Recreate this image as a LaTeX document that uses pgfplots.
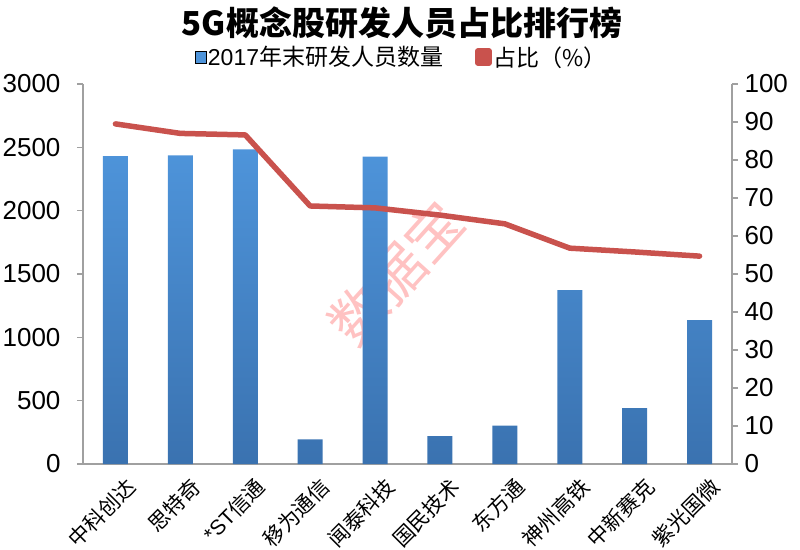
\documentclass[border=0pt]{standalone}
\usepackage{pgfplots}
\pgfplotsset{compat=1.18}
\usepackage{fontspec}
\setmainfont{Liberation Sans}
\newfontfamily\cjk{Noto Sans CJK SC}
\definecolor{barTop}{RGB}{78,148,218}
\definecolor{barBot}{RGB}{58,114,176}
\definecolor{lineRed}{RGB}{201,82,77}
\definecolor{axGray}{RGB}{160,160,160}
\begin{document}
\begin{tikzpicture}[x=1pt,y=1pt]
% watermark
\node[rotate=48, text=red!40!white, opacity=0.6, font=\cjk\fontsize{56}{56}\selectfont] at (396,276) {数据宝};
\node[font=\cjk\bfseries\fontsize{33}{33}\selectfont] at (402,526) {5G概念股研发人员占比排行榜};
\begin{axis}[
  at={(83pt,85pt)}, anchor=south west,
  width=649pt, height=380pt, scale only axis,
  xmin=-0.5, xmax=9.5, ymin=0, ymax=3000,
  axis y line*=left, axis x line*=bottom,
  xtick={0,...,9},
  xticklabels={中科创达,思特奇,{\fontspec{Liberation Sans}*ST}信通,移为通信,闻泰科技,国民技术,东方通,神州高铁,中新赛克,紫光国微},
  xticklabel style={xshift=16pt, yshift=-13pt, rotate=45, anchor=east, inner sep=0pt, font=\cjk\fontsize{21}{21}\selectfont},
  major x tick style={draw=none},
  ytick={0,500,...,3000},
  scaled y ticks=false,
  yticklabel style={xshift=-13pt, font=\fontsize{26}{26}\selectfont, /pgf/number format/1000 sep={}},
  /pgf/number format/assume math mode=true,
  tick align=outside, major tick length=6pt,
  axis line style={draw=axGray, line width=1.3pt},
  ytick style={draw=axGray, line width=1.3pt},
  ybar, bar width=25pt,
]
\addplot[draw=none, top color=barTop, bottom color=barBot] coordinates {
  (0,2431) (1,2437) (2,2484) (3,195) (4,2426)
  (5,221) (6,302) (7,1373) (8,442) (9,1136)
};
\end{axis}
\begin{axis}[
  at={(83pt,85pt)}, anchor=south west,
  width=649pt, height=380pt, scale only axis,
  xmin=-0.5, xmax=9.5, ymin=0, ymax=100,
  axis y line*=right, axis x line=none,
  ytick={0,10,...,100},
  yticklabel style={xshift=3pt, font=\fontsize{26}{26}\selectfont},
  /pgf/number format/assume math mode=true,
  tick align=outside, major tick length=6pt,
  axis line style={draw=axGray, line width=1.3pt},
  ytick style={draw=axGray, line width=1.3pt},
  legend style={at={(0.491,1.071)}, anchor=center, draw=none, fill=none,
    font=\cjk\fontsize{23}{23}\selectfont, legend columns=2,
    /tikz/every even column/.append style={column sep=30pt}},
  legend image code/.code={\fill[#1] (0pt,-6pt) rectangle (11pt,6pt);},
]
\addlegendimage{fill=barTop}
\addlegendentry{{\fontspec{Liberation Sans}2017}年末研发人员数量}
\addplot[color=lineRed, line width=5.5pt, line join=round, line cap=round] coordinates {
  (0,89.5) (1,87.0) (2,86.6) (3,67.9) (4,67.4)
  (5,65.5) (6,63.2) (7,56.8) (8,55.8) (9,54.7)
};
\addlegendentry{占比（\%）}
\end{axis}
\pgfresetboundingbox
\useasboundingbox (0,0) rectangle (800,549);
\end{tikzpicture}
\end{document}
